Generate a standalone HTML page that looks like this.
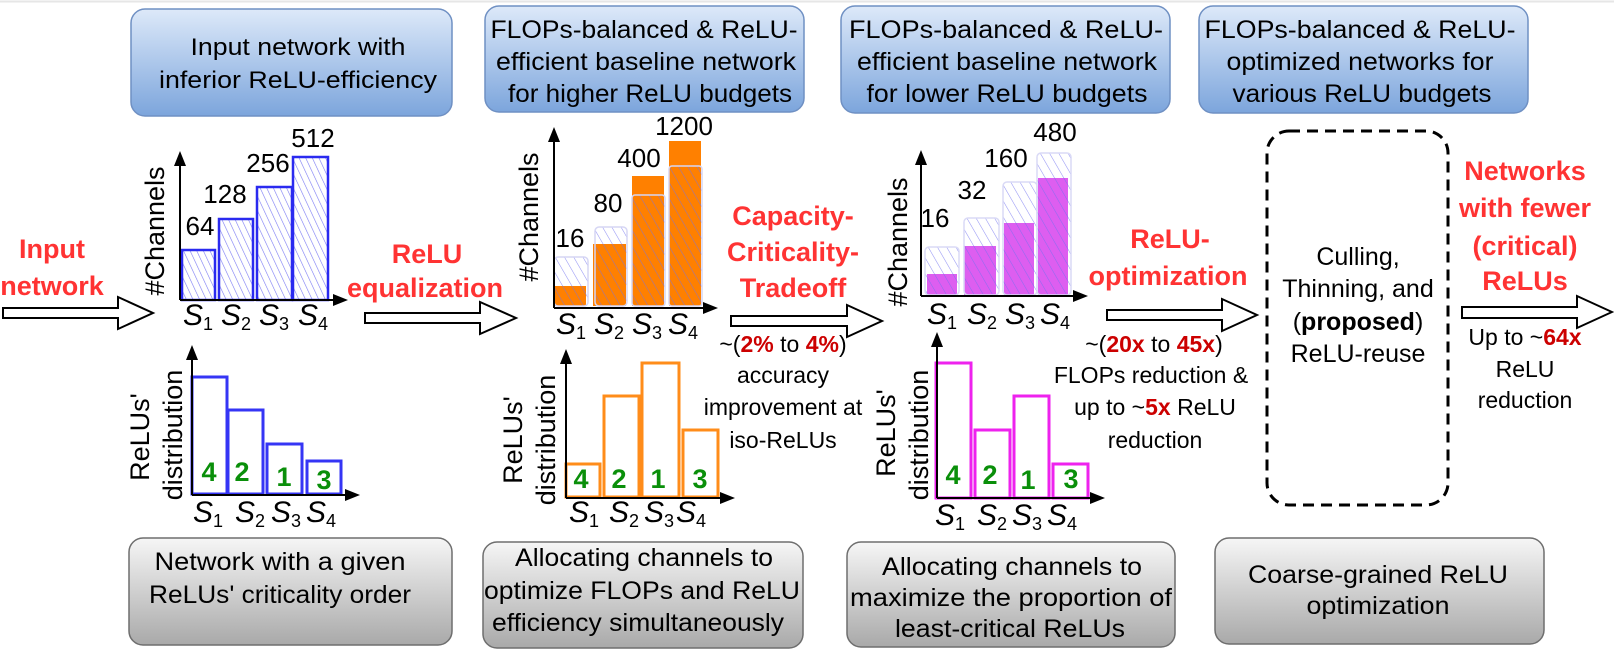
<!DOCTYPE html>
<html><head><meta charset="utf-8"><style>
html,body{margin:0;padding:0;background:#fff;}
svg{display:block;}
text{font-family:"Liberation Sans",sans-serif;}
.s{font-family:"Liberation Serif",serif;font-style:italic;}
.r{fill:#ff3333;font-weight:bold;font-size:27px;}
.g{fill:#0a8f0a;font-weight:bold;font-size:27px;}
.d{fill:#cc0000;font-weight:bold;}
</style></head><body>
<svg width="1614" height="656" viewBox="0 0 1614 656" xmlns="http://www.w3.org/2000/svg">
<defs>
<linearGradient id="bl" x1="0" y1="0" x2="0" y2="1"><stop offset="0" stop-color="#dde9f9"/><stop offset="1" stop-color="#7ca5dc"/></linearGradient>
<linearGradient id="gr" x1="0" y1="0" x2="0" y2="1"><stop offset="0" stop-color="#f6f6f6"/><stop offset="1" stop-color="#a9a9a9"/></linearGradient>
<pattern id="h1" patternUnits="userSpaceOnUse" width="6" height="6" patternTransform="rotate(-25)"><line x1="0" y1="0" x2="0" y2="6" stroke="#5a5af0" stroke-width="1.2" opacity="0.8"/></pattern>
<pattern id="h2" patternUnits="userSpaceOnUse" width="8" height="8" patternTransform="rotate(-30)"><line x1="0" y1="0" x2="0" y2="8" stroke="#7070f0" stroke-width="1.1" opacity="0.75"/></pattern>
</defs>
<rect width="1614" height="656" fill="#fff"/>
<line x1="0" y1="1.5" x2="1614" y2="1.5" stroke="#e6e6e6" stroke-width="2"/>

<!-- top boxes -->
<rect x="131" y="9" width="321" height="107" rx="14" fill="url(#bl)" stroke="#6f90c3" stroke-width="1.5"/>
<text x="298" y="55" font-size="24" text-anchor="middle" textLength="215" lengthAdjust="spacingAndGlyphs">Input network with</text>
<text x="298" y="88" font-size="24" text-anchor="middle" textLength="278" lengthAdjust="spacingAndGlyphs">inferior ReLU-efficiency</text>

<rect x="485" y="6" width="319" height="106" rx="14" fill="url(#bl)" stroke="#6f90c3" stroke-width="1.5"/>
<text x="644" y="38" font-size="25" text-anchor="middle" textLength="307" lengthAdjust="spacingAndGlyphs">FLOPs-balanced &amp; ReLU-</text>
<text x="646" y="70" font-size="25" text-anchor="middle" textLength="300" lengthAdjust="spacingAndGlyphs">efficient baseline network</text>
<text x="650" y="102" font-size="25" text-anchor="middle" textLength="284" lengthAdjust="spacingAndGlyphs">for higher ReLU budgets</text>

<rect x="841" y="6" width="329" height="107" rx="14" fill="url(#bl)" stroke="#6f90c3" stroke-width="1.5"/>
<text x="1006" y="38" font-size="25" text-anchor="middle" textLength="314" lengthAdjust="spacingAndGlyphs">FLOPs-balanced &amp; ReLU-</text>
<text x="1007" y="70" font-size="25" text-anchor="middle" textLength="300" lengthAdjust="spacingAndGlyphs">efficient baseline network</text>
<text x="1007" y="102" font-size="25" text-anchor="middle" textLength="281" lengthAdjust="spacingAndGlyphs">for lower ReLU budgets</text>

<rect x="1199" y="6" width="329" height="107" rx="14" fill="url(#bl)" stroke="#6f90c3" stroke-width="1.5"/>
<text x="1360" y="38" font-size="25" text-anchor="middle" textLength="311" lengthAdjust="spacingAndGlyphs">FLOPs-balanced &amp; ReLU-</text>
<text x="1360" y="70" font-size="25" text-anchor="middle" textLength="267" lengthAdjust="spacingAndGlyphs">optimized networks for</text>
<text x="1362" y="102" font-size="25" text-anchor="middle" textLength="259" lengthAdjust="spacingAndGlyphs">various ReLU budgets</text>

<!-- bottom boxes -->
<rect x="129" y="538" width="323" height="107" rx="14" fill="url(#gr)" stroke="#6e6e6e" stroke-width="1.5"/>
<text x="280" y="570" font-size="25" text-anchor="middle" textLength="251" lengthAdjust="spacingAndGlyphs">Network with a given</text>
<text x="280" y="603" font-size="25" text-anchor="middle" textLength="262" lengthAdjust="spacingAndGlyphs">ReLUs' criticality order</text>

<rect x="483" y="542" width="320" height="106" rx="14" fill="url(#gr)" stroke="#6e6e6e" stroke-width="1.5"/>
<text x="644" y="566" font-size="25" text-anchor="middle" textLength="258" lengthAdjust="spacingAndGlyphs">Allocating channels to</text>
<text x="642" y="599" font-size="25" text-anchor="middle" textLength="316" lengthAdjust="spacingAndGlyphs">optimize FLOPs and ReLU</text>
<text x="638" y="631" font-size="25" text-anchor="middle" textLength="292" lengthAdjust="spacingAndGlyphs">efficiency simultaneously</text>

<rect x="847" y="542" width="328" height="105" rx="14" fill="url(#gr)" stroke="#6e6e6e" stroke-width="1.5"/>
<text x="1012" y="575" font-size="25" text-anchor="middle" textLength="260" lengthAdjust="spacingAndGlyphs">Allocating channels to</text>
<text x="1011" y="606" font-size="25" text-anchor="middle" textLength="322" lengthAdjust="spacingAndGlyphs">maximize the proportion of</text>
<text x="1010" y="637" font-size="25" text-anchor="middle" textLength="230" lengthAdjust="spacingAndGlyphs">least-critical ReLUs</text>

<rect x="1215" y="538" width="329" height="106" rx="14" fill="url(#gr)" stroke="#6e6e6e" stroke-width="1.5"/>
<text x="1378" y="583" font-size="25" text-anchor="middle" textLength="260" lengthAdjust="spacingAndGlyphs">Coarse-grained ReLU</text>
<text x="1378" y="614" font-size="25" text-anchor="middle" textLength="143" lengthAdjust="spacingAndGlyphs">optimization</text>

<!-- arrows -->
<g fill="#fff" stroke="#000" stroke-width="2" stroke-linejoin="miter">
<polygon points="3,308 118,308 118,297 153,313 118,329 118,318 3,318"/>
<polygon points="365,313 480,313 480,302 516,318 480,334 480,323 365,323"/>
<polygon points="731,316 847,316 847,305 882,321 847,337 847,326 731,326"/>
<polygon points="1107,310 1222,310 1222,299 1257,315 1222,331 1222,320 1107,320"/>
<polygon points="1462,307 1577,307 1577,296 1612,312 1577,328 1577,318 1462,318"/>
</g>

<!-- red labels -->
<text class="r" x="52" y="258" text-anchor="middle">Input</text>
<text class="r" x="52" y="295" text-anchor="middle">network</text>
<text class="r" x="427" y="263" text-anchor="middle">ReLU</text>
<text class="r" x="425" y="297" text-anchor="middle">equalization</text>
<text class="r" x="793" y="225" text-anchor="middle">Capacity-</text>
<text class="r" x="793" y="261" text-anchor="middle">Criticality-</text>
<text class="r" x="793" y="297" text-anchor="middle">Tradeoff</text>
<text class="r" x="1170" y="248" text-anchor="middle">ReLU-</text>
<text class="r" x="1168" y="285" text-anchor="middle">optimization</text>
<text class="r" x="1525" y="180" text-anchor="middle">Networks</text>
<text class="r" x="1525" y="217" text-anchor="middle">with fewer</text>
<text class="r" x="1525" y="255" text-anchor="middle">(critical)</text>
<text class="r" x="1525" y="290" text-anchor="middle">ReLUs</text>

<!-- black annotation text -->
<g font-size="23" text-anchor="middle">
<text x="783" y="352">~(<tspan class="d">2%</tspan> to <tspan class="d">4%</tspan>)</text>
<text x="783" y="383">accuracy</text>
<text x="783" y="415">improvement at</text>
<text x="783" y="448">iso-ReLUs</text>
<text x="1154" y="352">~(<tspan class="d">20x</tspan> to <tspan class="d">45x</tspan>)</text>
<text x="1151" y="383">FLOPs reduction &amp;</text>
<text x="1155" y="415">up to ~<tspan class="d">5x</tspan> ReLU</text>
<text x="1155" y="448">reduction</text>
<text x="1525" y="345">Up to ~<tspan class="d">64x</tspan></text>
<text x="1525" y="377">ReLU</text>
<text x="1525" y="408">reduction</text>
</g>

<!-- dashed box -->
<rect x="1267" y="131" width="181" height="374" rx="22" fill="none" stroke="#000" stroke-width="3" stroke-dasharray="11,7"/>
<g font-size="25" text-anchor="middle">
<text x="1358" y="265">Culling,</text>
<text x="1358" y="297">Thinning, and</text>
<text x="1358" y="330">(<tspan font-weight="bold">proposed</tspan>)</text>
<text x="1358" y="362">ReLU-reuse</text>
</g>

<!-- Chart 1 top -->
<g>
<rect x="182" y="250" width="33" height="50" fill="url(#h1)" stroke="#2a2af0" stroke-width="2.5"/>
<rect x="219" y="219" width="34" height="81" fill="url(#h1)" stroke="#2a2af0" stroke-width="2.5"/>
<rect x="257" y="187" width="35" height="113" fill="url(#h1)" stroke="#2a2af0" stroke-width="2.5"/>
<rect x="293" y="157" width="35" height="143" fill="url(#h1)" stroke="#2a2af0" stroke-width="2.5"/>
<line x1="180" y1="300" x2="180" y2="160" stroke="#000" stroke-width="2"/>
<polygon points="180,151 174,166 186,166" fill="#000"/>
<line x1="180" y1="300" x2="338" y2="300" stroke="#000" stroke-width="2"/>
<polygon points="348,300 333,294 333,306" fill="#000"/>
<g font-size="26" text-anchor="middle"><text x="200" y="235">64</text><text x="225" y="203">128</text><text x="268" y="172">256</text><text x="313" y="147">512</text></g>
<text x="164" y="231" font-size="27" text-anchor="middle" transform="rotate(-90 164 231)">#Channels</text>
</g>
<!-- Chart 1 bottom -->
<g fill="#fff" stroke="#3535f5" stroke-width="3">
<rect x="192" y="377" width="35" height="117"/><rect x="228" y="410" width="35" height="84"/><rect x="267" y="444" width="35" height="50"/><rect x="307" y="461" width="34" height="33"/>
</g>
<line x1="192" y1="495" x2="350" y2="495" stroke="#000" stroke-width="2"/><polygon points="360,495 345,489 345,501"/>
<line x1="192" y1="495" x2="192" y2="354" stroke="#000" stroke-width="2"/><polygon points="192,345 186,360 198,360"/>
<g class="g" text-anchor="middle"><text x="209" y="481">4</text><text x="242" y="481">2</text><text x="284" y="486">1</text><text x="324" y="489">3</text></g>
<text x="149" y="437" font-size="27" text-anchor="middle" transform="rotate(-90 149 437)">ReLUs'</text>
<text x="182" y="435" font-size="27" text-anchor="middle" transform="rotate(-90 182 435)">distribution</text>

<!-- Chart 2 top -->
<g>
<rect x="555" y="286" width="31" height="20" fill="#ff8000"/>
<rect x="593" y="244" width="33" height="62" fill="#ff8000"/>
<rect x="632" y="176" width="32" height="130" fill="#ff8000"/>
<rect x="669" y="141" width="32" height="165" fill="#ff8000"/>
<g fill="url(#h2)" stroke="#d6d6f4" stroke-width="1.5">
<rect x="554" y="257" width="34" height="49" rx="4"/><rect x="595" y="227" width="32" height="79" rx="4"/><rect x="632" y="195" width="33" height="111" rx="3"/><rect x="669" y="166" width="33" height="140" rx="3"/>
</g>
<line x1="554" y1="308" x2="554" y2="136" stroke="#000" stroke-width="2"/><polygon points="554,127 548,142 560,142"/>
<line x1="554" y1="308" x2="708" y2="308" stroke="#000" stroke-width="2"/><polygon points="718,308 703,302 703,314"/>
<g font-size="26" text-anchor="middle"><text x="570" y="247">16</text><text x="608" y="212">80</text><text x="639" y="167">400</text><text x="684" y="135">1200</text></g>
<text x="538" y="217" font-size="27" text-anchor="middle" transform="rotate(-90 538 217)">#Channels</text>
</g>
<!-- Chart 2 bottom -->
<g fill="#fff" stroke="#ff8c1a" stroke-width="3">
<rect x="566" y="464" width="34" height="33"/><rect x="604" y="396" width="35" height="101"/><rect x="642" y="363" width="37" height="134"/><rect x="683" y="430" width="35" height="67"/>
</g>
<line x1="566" y1="498" x2="725" y2="498" stroke="#000" stroke-width="2"/><polygon points="735,498 720,492 720,504"/>
<line x1="566" y1="498" x2="566" y2="358" stroke="#000" stroke-width="2"/><polygon points="566,349 560,364 572,364"/>
<g class="g" text-anchor="middle"><text x="581" y="488">4</text><text x="619" y="488">2</text><text x="658" y="488">1</text><text x="700" y="488">3</text></g>
<text x="522" y="440" font-size="27" text-anchor="middle" transform="rotate(-90 522 440)">ReLUs'</text>
<text x="555" y="440" font-size="27" text-anchor="middle" transform="rotate(-90 555 440)">distribution</text>

<!-- Chart 3 top -->
<g>
<rect x="927" y="274" width="30" height="21" fill="#dd5ef0"/>
<rect x="964" y="246" width="32" height="49" fill="#dd5ef0"/>
<rect x="1004" y="223" width="30" height="72" fill="#dd5ef0"/>
<rect x="1038" y="178" width="30" height="117" fill="#dd5ef0"/>
<g fill="url(#h2)" stroke="#dadaf6" stroke-width="1.5">
<rect x="925" y="247" width="34" height="48" rx="4"/><rect x="964" y="218" width="35" height="77" rx="4"/><rect x="1003" y="182" width="34" height="113" rx="4"/><rect x="1037" y="153" width="34" height="142" rx="4"/>
</g>
<line x1="921" y1="296" x2="921" y2="159" stroke="#000" stroke-width="2"/><polygon points="921,150 915,165 927,165"/>
<line x1="921" y1="296" x2="1078" y2="296" stroke="#000" stroke-width="2"/><polygon points="1088,296 1073,290 1073,302"/>
<g font-size="26" text-anchor="middle"><text x="935" y="227">16</text><text x="972" y="199">32</text><text x="1006" y="167">160</text><text x="1055" y="141">480</text></g>
<text x="907" y="242" font-size="27" text-anchor="middle" transform="rotate(-90 907 242)">#Channels</text>
</g>
<!-- Chart 3 bottom -->
<g fill="#fff" stroke="#ee22ee" stroke-width="3">
<rect x="936" y="363" width="35" height="135"/><rect x="975" y="430" width="35" height="68"/><rect x="1014" y="396" width="35" height="102"/><rect x="1053" y="464" width="35" height="34"/>
</g>
<line x1="937" y1="498" x2="1095" y2="498" stroke="#000" stroke-width="2"/><polygon points="1105,498 1090,492 1090,504"/>
<line x1="937" y1="498" x2="937" y2="341" stroke="#000" stroke-width="2"/><polygon points="937,332 931,347 943,347"/>
<g class="g" text-anchor="middle"><text x="953" y="484">4</text><text x="990" y="484">2</text><text x="1028" y="489">1</text><text x="1071" y="488">3</text></g>
<text x="895" y="433" font-size="27" text-anchor="middle" transform="rotate(-90 895 433)">ReLUs'</text>
<text x="928" y="435" font-size="27" text-anchor="middle" transform="rotate(-90 928 435)">distribution</text>

<!-- S labels -->
<g class="s" font-size="30">
<text x="183" y="325">S<tspan font-size="18" font-style="normal" dy="5">1</tspan></text>
<text x="221" y="325">S<tspan font-size="18" font-style="normal" dy="5">2</tspan></text>
<text x="259" y="325">S<tspan font-size="18" font-style="normal" dy="5">3</tspan></text>
<text x="298" y="325">S<tspan font-size="18" font-style="normal" dy="5">4</tspan></text>
<text x="193" y="522">S<tspan font-size="18" font-style="normal" dy="5">1</tspan></text>
<text x="235" y="522">S<tspan font-size="18" font-style="normal" dy="5">2</tspan></text>
<text x="271" y="522">S<tspan font-size="18" font-style="normal" dy="5">3</tspan></text>
<text x="306" y="522">S<tspan font-size="18" font-style="normal" dy="5">4</tspan></text>
<text x="556" y="334">S<tspan font-size="18" font-style="normal" dy="5">1</tspan></text>
<text x="594" y="334">S<tspan font-size="18" font-style="normal" dy="5">2</tspan></text>
<text x="632" y="334">S<tspan font-size="18" font-style="normal" dy="5">3</tspan></text>
<text x="668" y="334">S<tspan font-size="18" font-style="normal" dy="5">4</tspan></text>
<text x="569" y="522">S<tspan font-size="18" font-style="normal" dy="5">1</tspan></text>
<text x="609" y="522">S<tspan font-size="18" font-style="normal" dy="5">2</tspan></text>
<text x="644" y="522">S<tspan font-size="18" font-style="normal" dy="5">3</tspan></text>
<text x="676" y="522">S<tspan font-size="18" font-style="normal" dy="5">4</tspan></text>
<text x="927" y="324">S<tspan font-size="18" font-style="normal" dy="5">1</tspan></text>
<text x="967" y="324">S<tspan font-size="18" font-style="normal" dy="5">2</tspan></text>
<text x="1005" y="324">S<tspan font-size="18" font-style="normal" dy="5">3</tspan></text>
<text x="1040" y="324">S<tspan font-size="18" font-style="normal" dy="5">4</tspan></text>
<text x="935" y="525">S<tspan font-size="18" font-style="normal" dy="5">1</tspan></text>
<text x="977" y="525">S<tspan font-size="18" font-style="normal" dy="5">2</tspan></text>
<text x="1012" y="525">S<tspan font-size="18" font-style="normal" dy="5">3</tspan></text>
<text x="1047" y="525">S<tspan font-size="18" font-style="normal" dy="5">4</tspan></text>
</g>
</svg>
</body></html>
